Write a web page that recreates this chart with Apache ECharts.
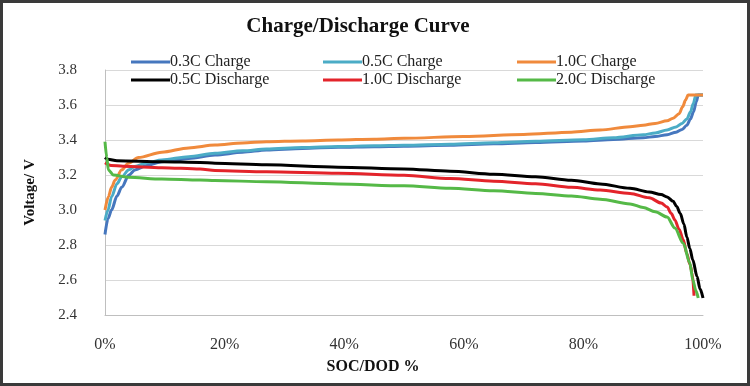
<!DOCTYPE html>
<html>
<head>
<meta charset="utf-8">
<script src="https://cdn.jsdelivr.net/npm/echarts@6/dist/echarts.min.js"></script>
<style>
html,body{margin:0;padding:0;background:#fff;}
#wrap{position:relative;width:750px;height:386px;}
#chart{width:750px;height:386px;}
#frame{position:absolute;left:0;top:0;width:750px;height:386px;box-sizing:border-box;border:3px solid #3a3a3a;pointer-events:none;}
</style>
</head>
<body>
<div id="wrap"><div id="chart"></div><div id="frame"></div></div>
<script>
// ---- Data (SOC/DOD %, Voltage V) ----
const seriesNames = ['0.3C Charge','0.5C Charge','1.0C Charge','0.5C Discharge','1.0C Discharge','2.0C Discharge'];
const xTicks = [0, 20, 40, 60, 80, 100];
const yTicks = [2.4, 2.6, 2.8, 3.0, 3.2, 3.4, 3.6, 3.8];

const charge03 = [[0,2.86],[0.5,2.95],[1.1,3.0],[2,3.08],[2.8,3.13],[4,3.2],[5,3.229],[7,3.255],[9.5,3.276],[14,3.295],[18.4,3.314],[23,3.33],[27,3.343],[33,3.352],[39,3.358],[45,3.362],[50,3.365],[57.7,3.37],[65,3.378],[72,3.386],[80,3.394],[85,3.403],[90,3.413],[92,3.42],[94,3.43],[95.5,3.445],[96.5,3.46],[97.3,3.485],[97.9,3.52],[98.4,3.56],[98.9,3.62],[99.2,3.657],[100,3.657]];
const charge05 = [[0,2.94],[0.5,3.0],[1.1,3.076],[2,3.15],[2.8,3.19],[4,3.23],[5,3.248],[7,3.27],[9.5,3.286],[14,3.305],[18.4,3.324],[23,3.338],[27,3.348],[33,3.357],[39,3.363],[45,3.367],[50,3.37],[57.7,3.376],[65,3.385],[72,3.393],[80,3.402],[85,3.413],[90,3.43],[92,3.44],[94,3.457],[95.5,3.475],[96.5,3.495],[97.3,3.52],[97.9,3.56],[98.4,3.61],[98.8,3.657],[100,3.657]];
const charge10 = [[0,3.0],[0.56,3.076],[1.1,3.13],[1.7,3.171],[2.8,3.23],[3.9,3.267],[5.6,3.30],[9.5,3.33],[14,3.355],[18.4,3.371],[23,3.383],[27,3.39],[33,3.395],[39,3.40],[45,3.405],[50,3.41],[60,3.42],[70,3.432],[78,3.445],[82.8,3.457],[87.8,3.476],[90,3.485],[92,3.495],[94,3.51],[95,3.525],[96,3.55],[96.6,3.59],[97.1,3.63],[97.5,3.657],[100,3.657]];
const discharge05 = [[0,3.30],[0.5,3.29],[2,3.282],[9.5,3.276],[15.9,3.272],[18.4,3.267],[27,3.258],[39,3.245],[50,3.235],[57.7,3.222],[65,3.205],[72,3.19],[78,3.17],[82.8,3.149],[87.8,3.124],[91,3.103],[93,3.088],[94,3.074],[95,3.05],[95.6,3.02],[96.2,2.98],[96.8,2.92],[97.3,2.846],[97.8,2.78],[98.3,2.714],[99,2.62],[99.5,2.55],[100,2.497]];
const discharge10 = [[0,3.27],[1,3.255],[3,3.25],[9.5,3.242],[15.9,3.234],[18.4,3.226],[27,3.218],[39,3.21],[50,3.198],[57.7,3.18],[65,3.165],[72,3.15],[78,3.13],[82.8,3.114],[87.8,3.095],[91,3.07],[93,3.04],[94,3.017],[94.7,2.98],[95.3,2.943],[96,2.89],[96.7,2.83],[97.3,2.75],[97.8,2.69],[98.2,2.64],[98.5,2.51]];
const discharge20 = [[0,3.39],[0.3,3.3],[0.56,3.229],[1.4,3.2],[3.9,3.187],[9.5,3.177],[15.9,3.171],[18.4,3.168],[27,3.162],[39,3.149],[50,3.138],[57.7,3.124],[65,3.11],[72,3.095],[78,3.08],[82.8,3.062],[87.8,3.035],[90,3.015],[92,2.99],[94,2.96],[95.3,2.897],[96.7,2.81],[97.8,2.697],[98.3,2.6],[98.8,2.54],[99.2,2.497]];

const seriesData = [charge03, charge05, charge10, discharge05, discharge10, discharge20];
const colors = ['#4677BE','#4BACC6','#F08A3C','#000000','#E3242B','#55B947'];

const chart = echarts.init(document.getElementById('chart'), null, {renderer:'canvas'});
const serif = '"Liberation Serif","Times New Roman",serif';

function legendCol(names, left){
  return {
    orient:'vertical', left:left, top:54, itemGap:2, padding:0,
    itemWidth:39, itemHeight:3, icon:'rect',
    data:names,
    textStyle:{fontFamily:serif, fontSize:16, lineHeight:16, color:'#222', padding:[0,0,0,-5]}
  };
}

const option = {
  animation:false,
  color:colors,
  title:{
    text:'Charge/Discharge Curve', left:358, top:16, textAlign:'center', padding:0,
    textStyle:{fontFamily:serif, fontSize:21, fontWeight:'bold', color:'#111'}
  },
  legend:[
    legendCol([seriesNames[0], seriesNames[3]], 131),
    legendCol([seriesNames[1], seriesNames[4]], 323),
    legendCol([seriesNames[2], seriesNames[5]], 517)
  ],
  grid:{left:105, right:47, top:70, bottom:71, containLabel:false},
  xAxis:{
    type:'value', min:0, max:100, interval:20,
    name:'SOC/DOD %', nameLocation:'middle', nameGap:44,
    nameTextStyle:{fontFamily:serif, fontSize:16, fontWeight:'bold', color:'#111', padding:[0,62,0,0]},
    axisLine:{show:true, onZero:false, lineStyle:{color:'#BFBFBF', width:1}},
    axisTick:{show:false},
    splitLine:{show:false},
    axisLabel:{fontFamily:serif, fontSize:16, color:'#333', margin:22, formatter:'{value}%'}
  },
  yAxis:{
    type:'value', min:2.4, max:3.8, interval:0.2,
    name:'Voltage/ V', nameLocation:'middle', nameGap:67, nameRotate:90,
    nameTextStyle:{fontFamily:serif, fontSize:15, fontWeight:'bold', color:'#111'},
    axisLine:{show:true, lineStyle:{color:'#BFBFBF', width:1}},
    axisTick:{show:false},
    splitLine:{show:true, lineStyle:{color:'#D9D9D9', width:1}},
    axisLabel:{fontFamily:serif, fontSize:15, color:'#333', margin:28,
      formatter:function(v){ return v.toFixed(1); }}
  },
  series: seriesNames.map(function(n,i){
    return {
      name:n, type:'line', data:seriesData[i],
      showSymbol:false, symbol:'none',
      smooth:0.3, smoothMonotone:'x',
      lineStyle:{width:3, color:colors[i]},
      itemStyle:{color:colors[i]},
      z: i>=3 ? 3 : 2
    };
  })
};
chart.setOption(option);
</script>
</body>
</html>
